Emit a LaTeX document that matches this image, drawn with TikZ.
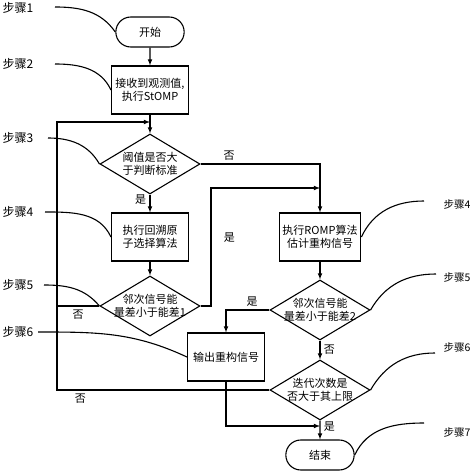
\documentclass[tikz,border=0pt]{standalone}
\usepackage{fontspec}
\setmainfont{Noto Sans CJK SC}
\usepackage{tikz}
\usepackage{tkz-euclide}
\usetikzlibrary{shapes.geometric,shapes.misc}

\begin{document}
\begin{tikzpicture}[x=1pt,y=-1pt,line width=1.1pt,
  every node/.style={font=\fontsize{11}{13.5}\selectfont},
  terminal/.style={rounded rectangle,draw,minimum width=75pt,minimum height=30pt},
  caixa/.style={rectangle,draw,minimum width=77pt,minimum height=48pt,align=center},
  decisao/.style={diamond,draw,aspect=1.667,minimum width=100pt,minimum height=60pt,inner xsep=-6pt,inner ysep=-2pt,align=center},
  passo/.style={anchor=west,inner sep=0pt,font=\fontsize{12}{14}\selectfont},
  passod/.style={anchor=west,inner sep=0pt,font=\fontsize{10.5}{12}\selectfont},
  seta/.style={-latex}] %estilos dos blocos do fluxograma

\useasboundingbox (0,0) rectangle (474,473);

%Centros dos blocos (x/y/NomedoPonto), em pixels da figura
\tkzDefPoints{
150/32/I,
150/90/R,
150/164/D1,
150/237/B1,
150/306/D2,
320/237/B2,
320/310/D3,
226/357/S,
320/390/D4,
320/455/F}

%Pontos de dobra das ligacoes
\tkzDefPoints{
57/122/V,
211/188/E,
320/426/J}

%Rotulos dos passos e inicio das curvas
\tkzDefPoints{
2/8/P1, 2/64/P2, 2/138/P3, 2/212/P4, 2/285/P5, 2/332/P6,
443/204/P7, 443/277/P8, 443/347/P9, 443/432/P10,
55/7/C1, 55/64/C2, 48/138/C3, 45/212/C4, 44/285/C5, 38/332/C6,
424/201/C7, 436/274/C8, 435/353/C9, 424/423/C10}

%Blocos
%---------------------------------------------------
\node[terminal] (ini) at (I) {开始};
\node[caixa] (rec) at (R) {接收到观测值,\\执行StOMP};
\node[decisao] (lim) at (D1) {阈值是否大\\于判断标准};
\node[caixa] (ret) at (B1) {执行回溯原\\子选择算法};
\node[decisao] (dif1) at (D2) {邻次信号能\\量差小于能差1};
\node[caixa] (romp) at (B2) {执行ROMP算法\\估计重构信号};
\node[decisao] (dif2) at (D3) {邻次信号能\\量差小于能差2};
\node[caixa] (sai) at (S) {输出重构信号};
\node[decisao] (ite) at (D4) {迭代次数是\\否大于其上限};
\node[terminal] (fim) at (F) {结束};
%---------------------------------------------------

%Ligacoes da coluna da esquerda
%---------------------------------------------------
\draw[seta] (ini) -- (rec);
\draw[seta] (rec) -- (lim);
\draw[seta] (lim) -- node[left,pos=0.3]{是} (ret);
\draw[seta] (ret) -- (dif1);
\draw (dif1.west) -- node[below]{否} (dif1.west -| V);
\draw[seta] (ite.west) -| node[below,pos=0.445]{否} (V) -- (V -| lim.north);
%---------------------------------------------------

%Ligacoes da coluna da direita
%---------------------------------------------------
\draw[seta] (lim.east) -- node[above,pos=0.24]{否} (lim.east -| romp.north) -- (romp.north);
\draw[seta] (dif1.east) -| node[right=9pt,pos=0.79]{是} (E) -- (E -| romp.north);
\draw[seta] (romp) -- (dif2);
\draw[seta] (dif2.west) -| node[above,pos=0.2]{是} (sai.north);
\draw[seta] (dif2) -- node[right]{否} (ite);
\draw[seta] (ite) -- node[right,pos=0.3]{是} (fim);
\draw[seta] (sai.south) |- (J);
%---------------------------------------------------

%Rotulos dos passos
%---------------------------------------------------
\node[passo] (s1) at (P1) {步骤1};
\node[passo] (s2) at (P2) {步骤2};
\node[passo] (s3) at (P3) {步骤3};
\node[passo] (s4) at (P4) {步骤4};
\node[passo] (s5) at (P5) {步骤5};
\node[passo] (s6) at (P6) {步骤6};
\node[passod] (s7) at (P7) {步骤4};
\node[passod] (s8) at (P8) {步骤5};
\node[passod] (s9) at (P9) {步骤6};
\node[passod] (s10) at (P10) {步骤7};
\draw (C1) to[out=0,in=125] (ini.west);
\draw (C2) to[out=0,in=115] (rec.west);
\draw (C3) to[out=0,in=120] (lim.west);
\draw (C4) to[out=0,in=115] (ret.west);
\draw (C5) to[out=0,in=130] (dif1.west);
\draw (C6) to[out=0,in=155] (sai.west);
\draw (C7) to[out=180,in=65] (romp.east);
\draw (C8) to[out=180,in=60] (dif2.east);
\draw (C9) to[out=180,in=60] (ite.east);
\draw (C10) to[out=180,in=65] (fim.east);
%---------------------------------------------------

\end{tikzpicture}
\end{document}
